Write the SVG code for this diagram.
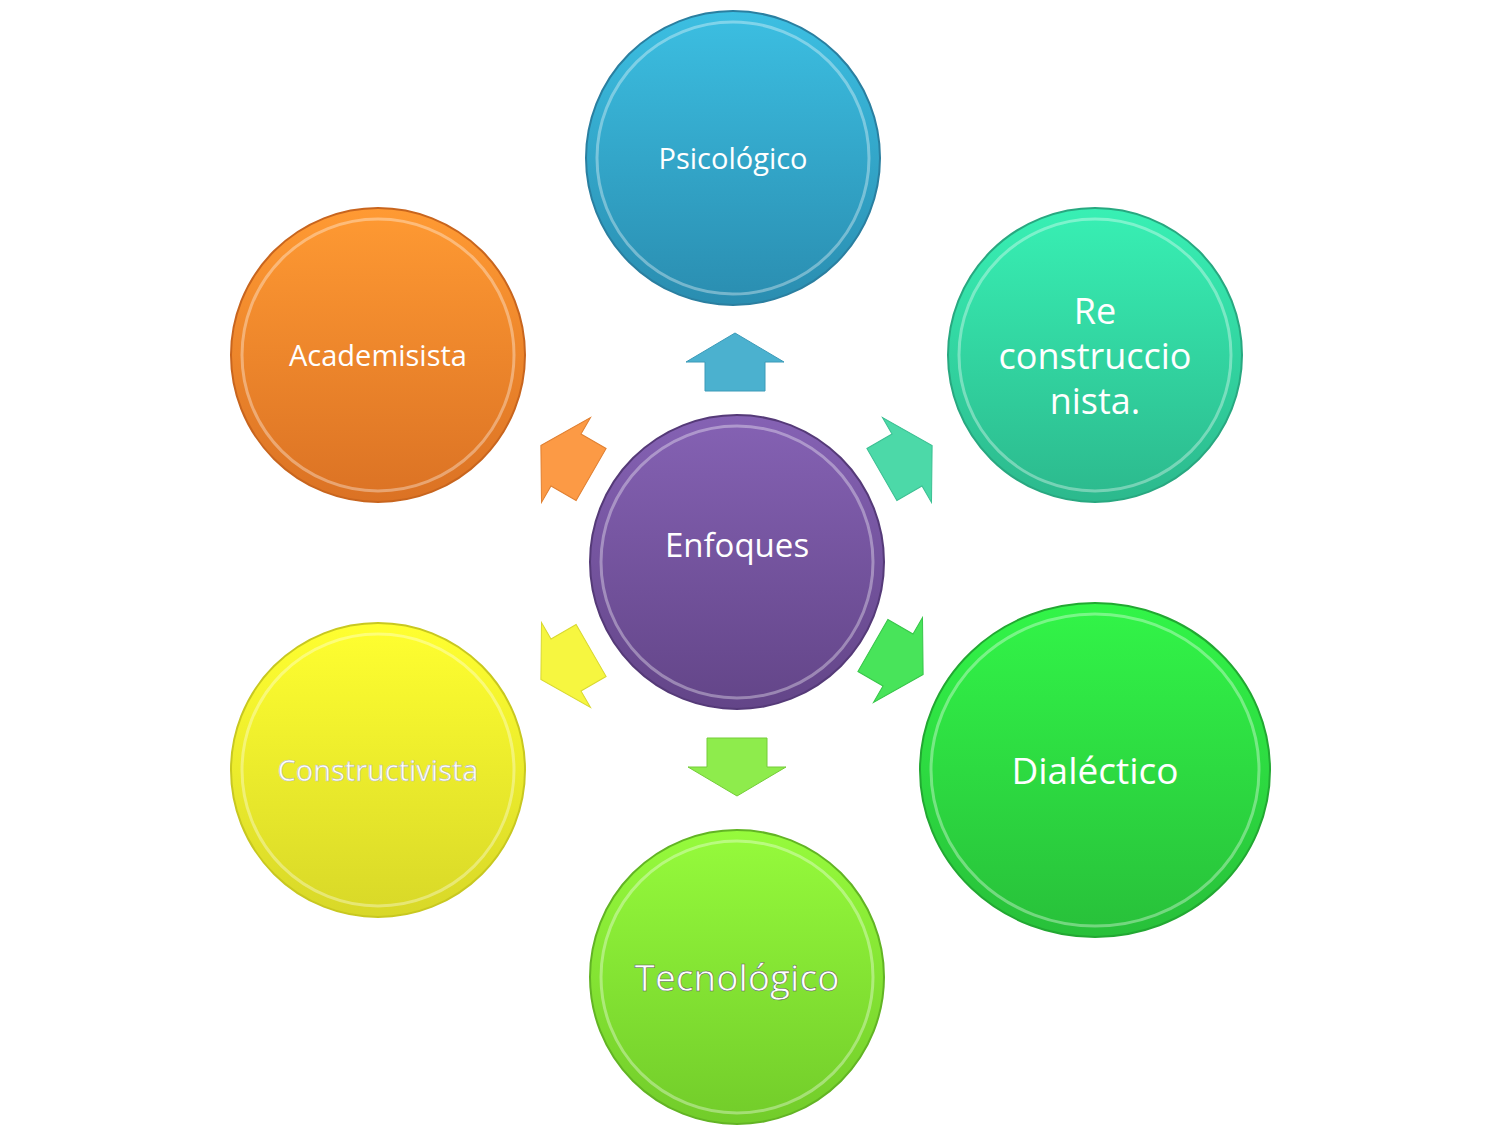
<svg xmlns="http://www.w3.org/2000/svg" width="1502" height="1138" viewBox="0 0 1502 1138">
<style>
text{font-family:"Open Sans","Liberation Sans",sans-serif;fill:#fff;text-anchor:middle}
.rim{fill:none;stroke:#fff;stroke-opacity:.35;stroke-width:3}
.out{stroke-width:2}
</style>
<defs>
<path id="arr" d="M0,-29 L49,0 L30,0 L30,29 L-30,29 L-30,0 L-49,0 Z"/>
<linearGradient id="gb" x1="0" y1="0" x2="0" y2="1"><stop offset="0" stop-color="#3cbfe2"/><stop offset="1" stop-color="#2a8db0"/></linearGradient>
<linearGradient id="go" x1="0" y1="0" x2="0" y2="1"><stop offset="0" stop-color="#ff9a33"/><stop offset="1" stop-color="#db7224"/></linearGradient>
<linearGradient id="gt" x1="0" y1="0" x2="0" y2="1"><stop offset="0" stop-color="#38f0b4"/><stop offset="1" stop-color="#2cb98d"/></linearGradient>
<linearGradient id="gp" x1="0" y1="0" x2="0" y2="1"><stop offset="0" stop-color="#8562b4"/><stop offset="1" stop-color="#634588"/></linearGradient>
<linearGradient id="gy" x1="0" y1="0" x2="0" y2="1"><stop offset="0" stop-color="#ffff30"/><stop offset="1" stop-color="#d8d828"/></linearGradient>
<linearGradient id="gd" x1="0" y1="0" x2="0" y2="1"><stop offset="0" stop-color="#32f548"/><stop offset="1" stop-color="#28c03a"/></linearGradient>
<linearGradient id="gl" x1="0" y1="0" x2="0" y2="1"><stop offset="0" stop-color="#96fb3c"/><stop offset="1" stop-color="#72cc2a"/></linearGradient>
</defs>
<g id="connectors">
<use href="#arr" transform="translate(735,362)" fill="#4bb1cf" stroke="#3c9ab8"/>
<use href="#arr" transform="translate(566,460) rotate(-60)" fill="#fc9a45" stroke="#e07f30"/>
<use href="#arr" transform="translate(907,460) rotate(60)" fill="#4cd9a8" stroke="#3bbf92"/>
<use href="#arr" transform="translate(898,660) rotate(120)" fill="#48e45a" stroke="#36c548"/>
<use href="#arr" transform="translate(566,665) rotate(-120)" fill="#f6f640" stroke="#d8d830"/>
<use href="#arr" transform="translate(737,767) rotate(180)" fill="#8eec4c" stroke="#74cc38"/>
</g>
<g id="psicologico"><circle cx="733" cy="158" r="147" fill="url(#gb)" class="out" stroke="#2a7fa0"/><circle cx="733" cy="158" r="136" class="rim"/><text x="733" y="169" font-size="29">Psicológico</text></g>
<g id="academisista"><circle cx="378" cy="355" r="147" fill="url(#go)" class="out" stroke="#c8651e"/><circle cx="378" cy="355" r="136" class="rim"/><text x="378" y="366" font-size="29">Academisista</text></g>
<g id="reconstruccionista"><circle cx="1095" cy="355" r="147" fill="url(#gt)" class="out" stroke="#28a880"/><circle cx="1095" cy="355" r="136" class="rim"/><text font-size="36"><tspan x="1095" y="324">Re</tspan><tspan x="1095" y="369">construccio</tspan><tspan x="1095" y="414">nista.</tspan></text></g>
<g id="enfoques"><circle cx="737" cy="562" r="147" fill="url(#gp)" class="out" stroke="#553a78"/><circle cx="737" cy="562" r="136" class="rim"/><text x="737" y="557" font-size="33">Enfoques</text></g>
<g id="constructivista"><circle cx="378" cy="770" r="147" fill="url(#gy)" class="out" stroke="#c8c820"/><circle cx="378" cy="770" r="136" class="rim"/><text x="378" y="781" font-size="29" stroke="#bbb" stroke-width="0.6">Constructivista</text></g>
<g id="dialectico"><ellipse cx="1095" cy="770" rx="175" ry="167" fill="url(#gd)" class="out" stroke="#22a832"/><ellipse cx="1095" cy="770" rx="164" ry="156" class="rim"/><text x="1095" y="784" font-size="37">Dialéctico</text></g>
<g id="tecnologico"><circle cx="737" cy="977" r="147" fill="url(#gl)" class="out" stroke="#62b424"/><circle cx="737" cy="977" r="136" class="rim"/><text x="737" y="991" font-size="37" stroke="#555" stroke-width="0.5">Tecnológico</text></g>
</svg>
